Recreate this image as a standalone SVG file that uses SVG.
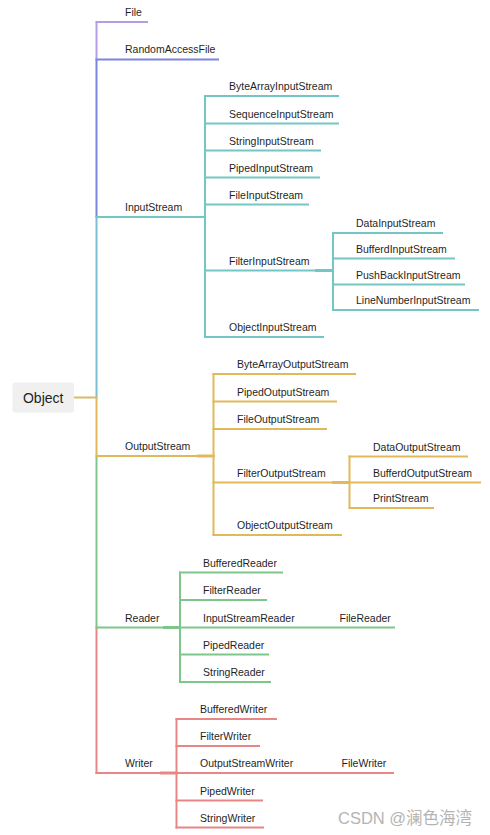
<svg xmlns="http://www.w3.org/2000/svg" width="490" height="835" viewBox="0 0 490 835">
<style>
text{font-family:"Liberation Sans",Arial,sans-serif;font-size:10.5px;fill:#1f1f1f}
line,path{fill:none;stroke-width:2;stroke-linecap:butt}
.lv{stroke:#b39de6}.bl{stroke:#7a86dc}.tl{stroke:#72c7c6}.tb{stroke:#79bed4}.gd{stroke:#e1b95a}.gr{stroke:#7ec68a}.rd{stroke:#e88686}
.thick{stroke-width:3}
</style>
<rect width="490" height="835" fill="#ffffff"/>
<g id="connectors">
<!-- trunk -->
<line class="lv" x1="96.5" y1="22" x2="96.5" y2="59"/>
<line class="bl" x1="96.5" y1="59" x2="96.5" y2="217"/>
<line class="tb" x1="96.5" y1="217" x2="96.5" y2="397"/>
<line class="gd" x1="96.5" y1="397" x2="96.5" y2="456"/>
<line class="gr" x1="96.5" y1="456" x2="96.5" y2="627"/>
<line class="rd" x1="96.5" y1="627" x2="96.5" y2="774"/>
<line stroke="#d8bb6a" stroke-width="2" x1="74" y1="397.5" x2="97.5" y2="397.5"/>
<!-- level 1 -->
<line class="lv" x1="95.5" y1="22" x2="148" y2="22"/>
<line class="bl" x1="95.5" y1="59.5" x2="219" y2="59.5"/>
<line class="tl" x1="95.5" y1="217" x2="206" y2="217"/>
<line class="gd" x1="95.5" y1="456" x2="214.5" y2="456"/>
<line class="gd thick" x1="197" y1="456" x2="214.5" y2="456"/>
<line class="gr" x1="95.5" y1="627.5" x2="181" y2="627.5"/>
<line class="gr thick" x1="163" y1="627.5" x2="181" y2="627.5"/>
<line class="rd" x1="95.5" y1="773" x2="177.5" y2="773"/>
<line class="rd thick" x1="160" y1="773" x2="177.5" y2="773"/>
<!-- InputStream children -->
<line class="tl" x1="205" y1="95" x2="205" y2="338"/>
<line class="tl" x1="204" y1="96" x2="339" y2="96"/>
<line class="tl" x1="204" y1="123.5" x2="339" y2="123.5"/>
<line class="tl" x1="204" y1="150.5" x2="321" y2="150.5"/>
<line class="tl" x1="204" y1="177.5" x2="320" y2="177.5"/>
<line class="tl" x1="204" y1="204.5" x2="309" y2="204.5"/>
<line class="tl" x1="204" y1="270.5" x2="333" y2="270.5"/>
<line class="tl thick" x1="315" y1="270.5" x2="333" y2="270.5"/>
<line class="tl" x1="204" y1="337" x2="324" y2="337"/>
<!-- FilterInputStream children -->
<line class="tl" x1="333" y1="232" x2="333" y2="311"/>
<line class="tl" x1="332" y1="233" x2="443" y2="233"/>
<line class="tl" x1="332" y1="258.5" x2="455" y2="258.5"/>
<line class="tl" x1="332" y1="284.5" x2="465" y2="284.5"/>
<line class="tl" x1="332" y1="310" x2="479" y2="310"/>
<!-- OutputStream children -->
<line class="gd" x1="213.5" y1="373" x2="213.5" y2="536"/>
<line class="gd" x1="212.5" y1="374" x2="356" y2="374"/>
<line class="gd" x1="212.5" y1="401.5" x2="337" y2="401.5"/>
<line class="gd" x1="212.5" y1="429" x2="327" y2="429"/>
<line class="gd" x1="212.5" y1="482.5" x2="350" y2="482.5"/>
<line class="gd thick" x1="332" y1="482.5" x2="350" y2="482.5"/>
<line class="gd" x1="212.5" y1="535" x2="342" y2="535"/>
<!-- FilterOutputStream children -->
<line class="gd" x1="349.5" y1="455.5" x2="349.5" y2="509"/>
<line class="gd" x1="348.5" y1="456.5" x2="468" y2="456.5"/>
<line class="gd" x1="348.5" y1="482.5" x2="481" y2="482.5"/>
<line class="gd" x1="348.5" y1="508" x2="434" y2="508"/>
<!-- Reader children -->
<line class="gr" x1="180" y1="571.5" x2="180" y2="683"/>
<line class="gr" x1="179" y1="572.5" x2="283" y2="572.5"/>
<line class="gr" x1="179" y1="600" x2="267" y2="600"/>
<line class="gr" x1="179" y1="627.5" x2="395" y2="627.5"/>
<line class="gr" x1="179" y1="654.5" x2="269" y2="654.5"/>
<line class="gr" x1="179" y1="682" x2="271" y2="682"/>
<!-- Writer children -->
<line class="rd" x1="176.5" y1="718" x2="176.5" y2="828.5"/>
<line class="rd" x1="175.5" y1="719" x2="277" y2="719"/>
<line class="rd" x1="175.5" y1="746" x2="260" y2="746"/>
<line class="rd" x1="175.5" y1="773" x2="394" y2="773"/>
<line class="rd" x1="175.5" y1="800.5" x2="263" y2="800.5"/>
<line class="rd" x1="175.5" y1="827.5" x2="264" y2="827.5"/>
</g>
<g id="object">
<rect x="12.5" y="382.5" width="61.5" height="30" rx="3" fill="#eff0ef"/>
<text x="43.2" y="403.3" text-anchor="middle" style="font-size:14px">Object</text>
</g>
<g id="file"><text x="125" y="16">File</text></g>
<g id="randomaccessfile"><text x="125" y="53">RandomAccessFile</text></g>
<g id="inputstream"><text x="125" y="211">InputStream</text></g>
<g id="bytearrayinputstream"><text x="229" y="90">ByteArrayInputStream</text></g>
<g id="sequenceinputstream"><text x="229" y="117.5">SequenceInputStream</text></g>
<g id="stringinputstream"><text x="229" y="144.5">StringInputStream</text></g>
<g id="pipedinputstream"><text x="229" y="171.5">PipedInputStream</text></g>
<g id="fileinputstream"><text x="229" y="198.5">FileInputStream</text></g>
<g id="filterinputstream"><text x="229" y="264.5">FilterInputStream</text></g>
<g id="objectinputstream"><text x="229" y="331">ObjectInputStream</text></g>
<g id="datainputstream"><text x="356" y="227">DataInputStream</text></g>
<g id="bufferdinputstream"><text x="356" y="252.5">BufferdInputStream</text></g>
<g id="pushbackinputstream"><text x="356" y="278.5">PushBackInputStream</text></g>
<g id="linenumberinputstream"><text x="356" y="304">LineNumberInputStream</text></g>
<g id="outputstream"><text x="125" y="450">OutputStream</text></g>
<g id="bytearrayoutputstream"><text x="237" y="368">ByteArrayOutputStream</text></g>
<g id="pipedoutputstream"><text x="237" y="395.5">PipedOutputStream</text></g>
<g id="fileoutputstream"><text x="237" y="423">FileOutputStream</text></g>
<g id="filteroutputstream"><text x="237" y="476.5">FilterOutputStream</text></g>
<g id="objectoutputstream"><text x="237" y="529">ObjectOutputStream</text></g>
<g id="dataoutputstream"><text x="373" y="450.5">DataOutputStream</text></g>
<g id="bufferdoutputstream"><text x="373" y="476.5">BufferdOutputStream</text></g>
<g id="printstream"><text x="373" y="502">PrintStream</text></g>
<g id="reader"><text x="125" y="621.5">Reader</text></g>
<g id="bufferedreader"><text x="203" y="566.5">BufferedReader</text></g>
<g id="filterreader"><text x="203" y="594">FilterReader</text></g>
<g id="inputstreamreader"><text x="203" y="621.5">InputStreamReader</text></g>
<g id="filereader"><text x="339.5" y="621.5">FileReader</text></g>
<g id="pipedreader"><text x="203" y="648.5">PipedReader</text></g>
<g id="stringreader"><text x="203" y="676">StringReader</text></g>
<g id="writer"><text x="125" y="767">Writer</text></g>
<g id="bufferedwriter"><text x="200" y="713">BufferedWriter</text></g>
<g id="filterwriter"><text x="200" y="740">FilterWriter</text></g>
<g id="outputstreamwriter"><text x="200" y="767">OutputStreamWriter</text></g>
<g id="filewriter"><text x="341.5" y="767">FileWriter</text></g>
<g id="pipedwriter"><text x="200" y="794.5">PipedWriter</text></g>
<g id="stringwriter"><text x="200" y="821.5">StringWriter</text></g>
<text x="338" y="823.5" style="font-family:'Liberation Sans','Noto Sans CJK SC',sans-serif;font-size:16.5px;fill:#b4b4b4">CSDN @澜色海湾</text>
</svg>
